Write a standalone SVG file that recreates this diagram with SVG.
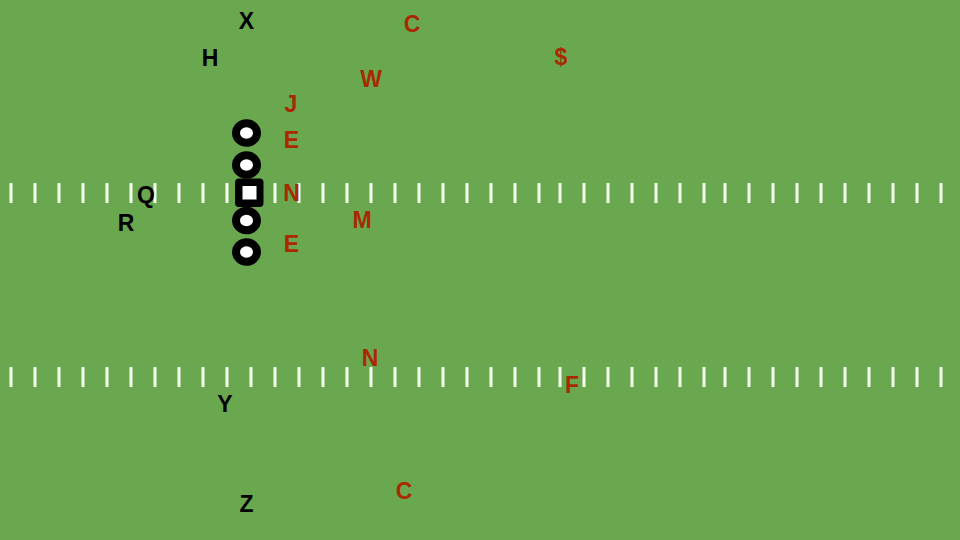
<svg xmlns="http://www.w3.org/2000/svg" width="960" height="540" viewBox="0 0 960 540">
<defs>
<style>
.t{font-family:"Liberation Sans",Arial,sans-serif;font-weight:bold;font-size:23px;text-anchor:middle}
.k{fill:#000000}
.r{fill:#a82a02}
.tick{stroke:#f6ffec;stroke-width:3}
.pl{fill:#ffffff;stroke:#000000;stroke-width:8}
</style>
</defs>
<rect id="field" x="0" y="0" width="960" height="540" fill="#6aa84f"/>
<g id="hash-top" class="tick">
<path d="M11,183v20M35,183v20M59,183v20M83,183v20M107,183v20M131,183v20M155,183v20M179,183v20M203,183v20M227,183v20M251,183v20M275,183v20M299,183v20M323,183v20M347,183v20M371,183v20M395,183v20M419,183v20M443,183v20M467,183v20M491,183v20M515,183v20M539,183v20M560,183v20M584,183v20M608,183v20M632,183v20M656,183v20M680,183v20M704,183v20M725,183v20M749,183v20M773,183v20M797,183v20M821,183v20M845,183v20M869,183v20M893,183v20M917,183v20M941,183v20"/>
</g>
<g id="hash-bottom" class="tick">
<path d="M11,367v20M35,367v20M59,367v20M83,367v20M107,367v20M131,367v20M155,367v20M179,367v20M203,367v20M227,367v20M251,367v20M275,367v20M299,367v20M323,367v20M347,367v20M371,367v20M395,367v20M419,367v20M443,367v20M467,367v20M491,367v20M515,367v20M539,367v20M560,367v20M584,367v20M608,367v20M632,367v20M656,367v20M680,367v20M704,367v20M725,367v20M749,367v20M773,367v20M797,367v20M821,367v20M845,367v20M869,367v20M893,367v20M917,367v20M941,367v20"/>
</g>
<g id="lineman-1"><ellipse class="pl" cx="246.5" cy="133" rx="10.5" ry="9.8"/></g>
<g id="lineman-2"><ellipse class="pl" cx="246.5" cy="165" rx="10.5" ry="9.8"/></g>
<g id="center"><rect x="235" y="178.5" width="28.5" height="28.5" rx="4" fill="#000000"/><rect x="242.5" y="186" width="14" height="13.5" fill="#ffffff"/></g>
<g id="lineman-3"><ellipse class="pl" cx="246.5" cy="220.5" rx="10.5" ry="9.8"/></g>
<g id="lineman-4"><ellipse class="pl" cx="246.5" cy="252" rx="10.5" ry="9.8"/></g>
<g id="off-X"><text class="t k" x="246.5" y="28.5">X</text></g>
<g id="off-H"><text class="t k" x="210" y="66">H</text></g>
<g id="off-Q"><text class="t k" x="146" y="203">Q</text></g>
<g id="off-R"><text class="t k" x="126" y="231">R</text></g>
<g id="off-Y"><text class="t k" x="225" y="412">Y</text></g>
<g id="off-Z"><text class="t k" x="246.5" y="511.5">Z</text></g>
<g id="def-C1"><text class="t r" x="412" y="31.5">C</text></g>
<g id="def-W"><text class="t r" x="371" y="87">W</text></g>
<g id="def-S"><text class="t r" x="561" y="65">$</text></g>
<g id="def-J"><text class="t r" x="291" y="112">J</text></g>
<g id="def-E1"><text class="t r" x="291.5" y="148">E</text></g>
<g id="def-N1"><text class="t r" x="291.5" y="201">N</text></g>
<g id="def-M"><text class="t r" x="362" y="228">M</text></g>
<g id="def-E2"><text class="t r" x="291.5" y="252">E</text></g>
<g id="def-N2"><text class="t r" x="370" y="366">N</text></g>
<g id="def-F"><text class="t r" x="572" y="393">F</text></g>
<g id="def-C2"><text class="t r" x="404" y="498.5">C</text></g>
</svg>
